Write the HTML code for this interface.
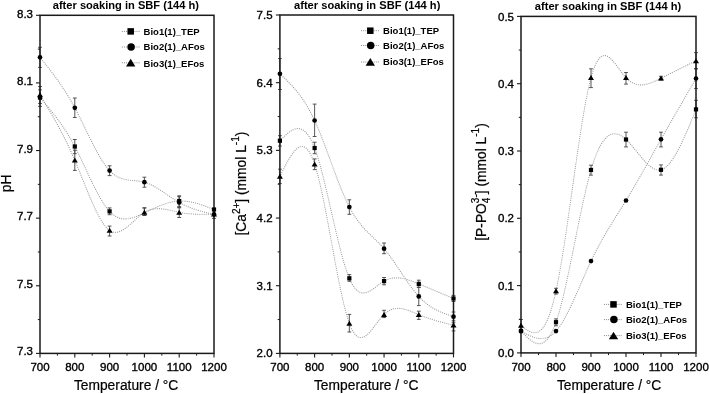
<!DOCTYPE html>
<html><head><meta charset="utf-8"><title>after soaking in SBF</title>
<style>
html,body{margin:0;padding:0;background:#fff;}
svg{display:block;}
text{font-family:"Liberation Sans", sans-serif;fill:#000;}
.tk{font-size:11.5px;stroke:#000;stroke-width:0.35px;}
.ttl{font-size:11.12px;font-weight:bold;}
.axt{font-size:13.8px;stroke:#000;stroke-width:0.2px;}
.sup{font-size:10px;}
.lg{font-size:9.5px;font-weight:bold;}
</style></head><body>
<svg width="709" height="394" viewBox="0 0 709 394">
<rect width="709" height="394" fill="#fff"/>
<polyline points="40.00,97.60 41.46,99.30 42.92,101.00 44.39,102.71 45.85,104.43 47.31,106.17 48.77,107.92 50.24,109.70 51.70,111.50 53.16,113.34 54.62,115.21 56.08,117.11 57.55,119.06 59.01,121.05 60.47,123.10 61.93,125.19 63.39,127.34 64.86,129.56 66.32,131.83 67.78,134.18 69.24,136.59 70.71,139.09 72.17,141.66 73.63,144.31 75.09,147.06 76.55,149.88 78.02,152.79 79.48,155.76 80.94,158.78 82.40,161.84 83.87,164.93 85.33,168.03 86.79,171.14 88.25,174.25 89.71,177.34 91.18,180.39 92.64,183.41 94.10,186.37 95.56,189.26 97.03,192.08 98.49,194.81 99.95,197.44 101.41,199.95 102.87,202.34 104.34,204.59 105.80,206.70 107.26,208.65 108.72,210.42 110.18,212.01 111.65,213.42 113.11,214.65 114.57,215.70 116.03,216.59 117.50,217.33 118.96,217.91 120.42,218.36 121.88,218.68 123.34,218.88 124.81,218.95 126.27,218.92 127.73,218.80 129.19,218.57 130.66,218.27 132.12,217.89 133.58,217.44 135.04,216.94 136.50,216.38 137.97,215.77 139.43,215.13 140.89,214.47 142.35,213.78 143.82,213.08 145.28,212.38 146.74,211.68 148.20,210.98 149.66,210.28 151.13,209.59 152.59,208.92 154.05,208.25 155.51,207.60 156.97,206.97 158.44,206.35 159.90,205.76 161.36,205.19 162.82,204.64 164.29,204.12 165.75,203.64 167.21,203.18 168.67,202.77 170.13,202.39 171.60,202.04 173.06,201.75 174.52,201.49 175.98,201.28 177.45,201.12 178.91,201.02 180.37,200.96 181.83,200.96 183.29,201.00 184.76,201.10 186.22,201.24 187.68,201.42 189.14,201.65 190.61,201.91 192.07,202.21 193.53,202.54 194.99,202.90 196.45,203.30 197.92,203.72 199.38,204.17 200.84,204.63 202.30,205.12 203.76,205.63 205.23,206.15 206.69,206.69 208.15,207.24 209.61,207.80 211.08,208.36 212.54,208.93 214.00,209.50" fill="none" stroke="#9a9a9a" stroke-width="1.15" stroke-linecap="round" stroke-dasharray="0.05 2.1"/>
<polyline points="40.00,57.30 41.46,59.12 42.92,60.94 44.39,62.78 45.85,64.62 47.31,66.47 48.77,68.34 50.24,70.22 51.70,72.13 53.16,74.07 54.62,76.04 56.08,78.03 57.55,80.06 59.01,82.13 60.47,84.24 61.93,86.40 63.39,88.61 64.86,90.86 66.32,93.17 67.78,95.54 69.24,97.96 70.71,100.46 72.17,103.02 73.63,105.64 75.09,108.35 76.55,111.12 78.02,113.96 79.48,116.85 80.94,119.79 82.40,122.75 83.87,125.74 85.33,128.74 86.79,131.74 88.25,134.73 89.71,137.69 91.18,140.63 92.64,143.53 94.10,146.37 95.56,149.15 97.03,151.86 98.49,154.48 99.95,157.01 101.41,159.44 102.87,161.75 104.34,163.93 105.80,165.98 107.26,167.89 108.72,169.63 110.18,171.21 111.65,172.62 113.11,173.87 114.57,174.97 116.03,175.94 117.50,176.77 118.96,177.49 120.42,178.11 121.88,178.62 123.34,179.05 124.81,179.41 126.27,179.70 127.73,179.94 129.19,180.14 130.66,180.30 132.12,180.44 133.58,180.57 135.04,180.70 136.50,180.84 137.97,181.00 139.43,181.19 140.89,181.42 142.35,181.70 143.82,182.04 145.28,182.46 146.74,182.95 148.20,183.51 149.66,184.13 151.13,184.81 152.59,185.55 154.05,186.33 155.51,187.16 156.97,188.03 158.44,188.93 159.90,189.86 161.36,190.81 162.82,191.79 164.29,192.78 165.75,193.77 167.21,194.77 168.67,195.77 170.13,196.77 171.60,197.75 173.06,198.72 174.52,199.67 175.98,200.59 177.45,201.48 178.91,202.33 180.37,203.15 181.83,203.92 183.29,204.66 184.76,205.36 186.22,206.02 187.68,206.65 189.14,207.25 190.61,207.82 192.07,208.36 193.53,208.87 194.99,209.36 196.45,209.83 197.92,210.28 199.38,210.71 200.84,211.11 202.30,211.51 203.76,211.89 205.23,212.26 206.69,212.61 208.15,212.96 209.61,213.30 211.08,213.64 212.54,213.97 214.00,214.30" fill="none" stroke="#9a9a9a" stroke-width="1.15" stroke-linecap="round" stroke-dasharray="0.05 2.1"/>
<polyline points="40.00,94.90 41.46,97.31 42.92,99.72 44.39,102.14 45.85,104.57 47.31,107.02 48.77,109.48 50.24,111.96 51.70,114.47 53.16,117.01 54.62,119.58 56.08,122.18 57.55,124.83 59.01,127.51 60.47,130.24 61.93,133.03 63.39,135.86 64.86,138.75 66.32,141.70 67.78,144.72 69.24,147.80 70.71,150.96 72.17,154.19 73.63,157.50 75.09,160.88 76.55,164.35 78.02,167.89 79.48,171.47 80.94,175.09 82.40,178.73 83.87,182.37 85.33,186.00 86.79,189.60 88.25,193.16 89.71,196.66 91.18,200.09 92.64,203.43 94.10,206.66 95.56,209.77 97.03,212.74 98.49,215.56 99.95,218.21 101.41,220.68 102.87,222.96 104.34,225.01 105.80,226.84 107.26,228.42 108.72,229.74 110.18,230.78 111.65,231.55 113.11,232.05 114.57,232.31 116.03,232.34 117.50,232.17 118.96,231.80 120.42,231.25 121.88,230.55 123.34,229.70 124.81,228.73 126.27,227.66 127.73,226.49 129.19,225.26 130.66,223.97 132.12,222.64 133.58,221.30 135.04,219.95 136.50,218.61 137.97,217.31 139.43,216.06 140.89,214.87 142.35,213.77 143.82,212.77 145.28,211.88 146.74,211.12 148.20,210.48 149.66,209.94 151.13,209.50 152.59,209.16 154.05,208.91 155.51,208.75 156.97,208.66 158.44,208.64 159.90,208.69 161.36,208.79 162.82,208.95 164.29,209.15 165.75,209.39 167.21,209.66 168.67,209.96 170.13,210.28 171.60,210.61 173.06,210.95 174.52,211.28 175.98,211.62 177.45,211.94 178.91,212.24 180.37,212.52 181.83,212.77 183.29,213.00 184.76,213.21 186.22,213.40 187.68,213.56 189.14,213.70 190.61,213.83 192.07,213.94 193.53,214.03 194.99,214.11 196.45,214.17 197.92,214.22 199.38,214.25 200.84,214.28 202.30,214.29 203.76,214.30 205.23,214.30 206.69,214.29 208.15,214.28 209.61,214.27 211.08,214.25 212.54,214.22 214.00,214.20" fill="none" stroke="#9a9a9a" stroke-width="1.15" stroke-linecap="round" stroke-dasharray="0.05 2.1"/>
<path d="M40.00,89.80V106.40M38.10,89.80H41.90M38.10,106.40H41.90" stroke="#444" stroke-width="0.9" fill="none"/>
<path d="M74.80,139.50V153.70M72.90,139.50H76.70M72.90,153.70H76.70" stroke="#444" stroke-width="0.9" fill="none"/>
<path d="M109.60,207.90V214.70M107.70,207.90H111.50M107.70,214.70H111.50" stroke="#444" stroke-width="0.9" fill="none"/>
<path d="M144.40,208.00V215.50M142.50,208.00H146.30M142.50,215.50H146.30" stroke="#444" stroke-width="0.9" fill="none"/>
<path d="M179.20,195.80V206.90M177.30,195.80H181.10M177.30,206.90H181.10" stroke="#444" stroke-width="0.9" fill="none"/>
<path d="M40.00,47.30V67.40M38.10,47.30H41.90M38.10,67.40H41.90" stroke="#444" stroke-width="0.9" fill="none"/>
<path d="M74.80,98.00V117.50M72.90,98.00H76.70M72.90,117.50H76.70" stroke="#444" stroke-width="0.9" fill="none"/>
<path d="M109.60,165.80V175.60M107.70,165.80H111.50M107.70,175.60H111.50" stroke="#444" stroke-width="0.9" fill="none"/>
<path d="M144.40,177.20V187.20M142.50,177.20H146.30M142.50,187.20H146.30" stroke="#444" stroke-width="0.9" fill="none"/>
<path d="M179.20,196.70V207.80M177.30,196.70H181.10M177.30,207.80H181.10" stroke="#444" stroke-width="0.9" fill="none"/>
<path d="M214.00,210.20V218.40M212.10,210.20H215.90M212.10,218.40H215.90" stroke="#444" stroke-width="0.9" fill="none"/>
<path d="M40.00,86.50V103.50M38.10,86.50H41.90M38.10,103.50H41.90" stroke="#444" stroke-width="0.9" fill="none"/>
<path d="M74.80,150.20V170.40M72.90,150.20H76.70M72.90,170.40H76.70" stroke="#444" stroke-width="0.9" fill="none"/>
<path d="M109.60,226.10V236.00M107.70,226.10H111.50M107.70,236.00H111.50" stroke="#444" stroke-width="0.9" fill="none"/>
<path d="M144.40,207.80V215.50M142.50,207.80H146.30M142.50,215.50H146.30" stroke="#444" stroke-width="0.9" fill="none"/>
<path d="M179.20,207.00V217.50M177.30,207.00H181.10M177.30,217.50H181.10" stroke="#444" stroke-width="0.9" fill="none"/>
<rect x="40.0" y="15.3" width="174.0" height="338.09999999999997" fill="none" stroke="#1a1a1a" stroke-width="1.5"/>
<line x1="40.00" y1="353.4" x2="40.00" y2="357.40" stroke="#1a1a1a" stroke-width="1.1"/>
<line x1="57.40" y1="353.4" x2="57.40" y2="355.60" stroke="#1a1a1a" stroke-width="1"/>
<text transform="translate(40.00,370.5)" text-anchor="middle" class="tk">700</text>
<line x1="74.80" y1="353.4" x2="74.80" y2="357.40" stroke="#1a1a1a" stroke-width="1.1"/>
<line x1="92.20" y1="353.4" x2="92.20" y2="355.60" stroke="#1a1a1a" stroke-width="1"/>
<text transform="translate(74.80,370.5)" text-anchor="middle" class="tk">800</text>
<line x1="109.60" y1="353.4" x2="109.60" y2="357.40" stroke="#1a1a1a" stroke-width="1.1"/>
<line x1="127.00" y1="353.4" x2="127.00" y2="355.60" stroke="#1a1a1a" stroke-width="1"/>
<text transform="translate(109.60,370.5)" text-anchor="middle" class="tk">900</text>
<line x1="144.40" y1="353.4" x2="144.40" y2="357.40" stroke="#1a1a1a" stroke-width="1.1"/>
<line x1="161.80" y1="353.4" x2="161.80" y2="355.60" stroke="#1a1a1a" stroke-width="1"/>
<text transform="translate(144.40,370.5)" text-anchor="middle" class="tk">1000</text>
<line x1="179.20" y1="353.4" x2="179.20" y2="357.40" stroke="#1a1a1a" stroke-width="1.1"/>
<line x1="196.60" y1="353.4" x2="196.60" y2="355.60" stroke="#1a1a1a" stroke-width="1"/>
<text transform="translate(179.20,370.5)" text-anchor="middle" class="tk">1100</text>
<line x1="214.00" y1="353.4" x2="214.00" y2="357.40" stroke="#1a1a1a" stroke-width="1.1"/>
<text transform="translate(214.00,370.5)" text-anchor="middle" class="tk">1200</text>
<line x1="36.00" y1="353.40" x2="40.0" y2="353.40" stroke="#1a1a1a" stroke-width="1.1"/>
<line x1="37.80" y1="319.59" x2="40.0" y2="319.59" stroke="#1a1a1a" stroke-width="1"/>
<text transform="translate(33.00,355.40)" text-anchor="end" class="tk">7.3</text>
<line x1="36.00" y1="285.78" x2="40.0" y2="285.78" stroke="#1a1a1a" stroke-width="1.1"/>
<line x1="37.80" y1="251.97" x2="40.0" y2="251.97" stroke="#1a1a1a" stroke-width="1"/>
<text transform="translate(33.00,287.78)" text-anchor="end" class="tk">7.5</text>
<line x1="36.00" y1="218.16" x2="40.0" y2="218.16" stroke="#1a1a1a" stroke-width="1.1"/>
<line x1="37.80" y1="184.35" x2="40.0" y2="184.35" stroke="#1a1a1a" stroke-width="1"/>
<text transform="translate(33.00,220.16)" text-anchor="end" class="tk">7.7</text>
<line x1="36.00" y1="150.54" x2="40.0" y2="150.54" stroke="#1a1a1a" stroke-width="1.1"/>
<line x1="37.80" y1="116.73" x2="40.0" y2="116.73" stroke="#1a1a1a" stroke-width="1"/>
<text transform="translate(33.00,152.54)" text-anchor="end" class="tk">7.9</text>
<line x1="36.00" y1="82.92" x2="40.0" y2="82.92" stroke="#1a1a1a" stroke-width="1.1"/>
<line x1="37.80" y1="49.11" x2="40.0" y2="49.11" stroke="#1a1a1a" stroke-width="1"/>
<text transform="translate(33.00,84.92)" text-anchor="end" class="tk">8.1</text>
<line x1="36.00" y1="15.30" x2="40.0" y2="15.30" stroke="#1a1a1a" stroke-width="1.1"/>
<text transform="translate(33.00,18.10)" text-anchor="end" class="tk">8.3</text>
<rect x="37.90" y="95.50" width="4.20" height="4.20" fill="#000"/>
<rect x="72.70" y="144.40" width="4.20" height="4.20" fill="#000"/>
<rect x="107.50" y="209.30" width="4.20" height="4.20" fill="#000"/>
<rect x="177.10" y="198.90" width="4.20" height="4.20" fill="#000"/>
<rect x="211.90" y="207.40" width="4.20" height="4.20" fill="#000"/>
<circle cx="40.00" cy="57.30" r="2.35" fill="#000"/>
<circle cx="74.80" cy="107.80" r="2.35" fill="#000"/>
<circle cx="109.60" cy="170.60" r="2.35" fill="#000"/>
<circle cx="144.40" cy="182.20" r="2.35" fill="#000"/>
<circle cx="179.20" cy="202.50" r="2.35" fill="#000"/>
<circle cx="214.00" cy="214.30" r="2.35" fill="#000"/>
<polygon points="40.00,92.30 43.00,97.30 37.00,97.30" fill="#000"/>
<polygon points="74.80,157.60 77.80,162.60 71.80,162.60" fill="#000"/>
<polygon points="109.60,227.80 112.60,232.80 106.60,232.80" fill="#000"/>
<polygon points="144.40,209.80 147.40,214.80 141.40,214.80" fill="#000"/>
<polygon points="179.20,209.70 182.20,214.70 176.20,214.70" fill="#000"/>
<polygon points="214.00,211.60 217.00,216.60 211.00,216.60" fill="#000"/>
<text x="125.90" y="8.80" text-anchor="middle" class="ttl">after soaking in SBF (144 h)</text>
<text x="126.10" y="389.8" text-anchor="middle" class="axt">Temperature / °C</text>
<polyline points="279.90,140.70 281.36,139.24 282.82,137.80 284.28,136.40 285.74,135.06 287.19,133.79 288.65,132.61 290.11,131.55 291.57,130.62 293.03,129.83 294.49,129.22 295.95,128.79 297.41,128.57 298.86,128.57 300.32,128.82 301.78,129.33 303.24,130.11 304.70,131.20 306.16,132.61 307.62,134.35 309.08,136.45 310.54,138.92 311.99,141.79 313.45,145.07 314.91,148.78 316.37,152.92 317.83,157.46 319.29,162.36 320.75,167.58 322.21,173.08 323.66,178.83 325.12,184.78 326.58,190.90 328.04,197.14 329.50,203.47 330.96,209.86 332.42,216.25 333.88,222.61 335.34,228.91 336.79,235.10 338.25,241.15 339.71,247.01 341.17,252.65 342.63,258.03 344.09,263.10 345.55,267.84 347.01,272.20 348.46,276.15 349.92,279.64 351.38,282.66 352.84,285.24 354.30,287.40 355.76,289.17 357.22,290.57 358.68,291.63 360.14,292.36 361.59,292.81 363.05,292.99 364.51,292.92 365.97,292.64 367.43,292.17 368.89,291.52 370.35,290.74 371.81,289.84 373.26,288.85 374.72,287.79 376.18,286.69 377.64,285.57 379.10,284.46 380.56,283.39 382.02,282.37 383.48,281.44 384.94,280.62 386.39,279.91 387.85,279.32 389.31,278.83 390.77,278.44 392.23,278.15 393.69,277.95 395.15,277.84 396.61,277.81 398.06,277.85 399.52,277.97 400.98,278.16 402.44,278.40 403.90,278.71 405.36,279.06 406.82,279.46 408.28,279.91 409.74,280.39 411.19,280.90 412.65,281.44 414.11,282.01 415.57,282.59 417.03,283.18 418.49,283.78 419.95,284.38 421.41,284.99 422.86,285.59 424.32,286.20 425.78,286.81 427.24,287.41 428.70,288.02 430.16,288.64 431.62,289.25 433.08,289.86 434.54,290.47 435.99,291.09 437.45,291.70 438.91,292.32 440.37,292.94 441.83,293.55 443.29,294.17 444.75,294.79 446.21,295.41 447.66,296.02 449.12,296.64 450.58,297.26 452.04,297.88 453.50,298.50" fill="none" stroke="#9a9a9a" stroke-width="1.15" stroke-linecap="round" stroke-dasharray="0.05 2.1"/>
<polyline points="279.90,73.80 281.36,75.17 282.82,76.55 284.28,77.93 285.74,79.34 287.19,80.77 288.65,82.24 290.11,83.74 291.57,85.29 293.03,86.88 294.49,88.53 295.95,90.25 297.41,92.03 298.86,93.89 300.32,95.84 301.78,97.87 303.24,99.99 304.70,102.22 306.16,104.55 307.62,106.99 309.08,109.56 310.54,112.25 311.99,115.07 313.45,118.03 314.91,121.13 316.37,124.38 317.83,127.77 319.29,131.27 320.75,134.88 322.21,138.58 323.66,142.36 325.12,146.20 326.58,150.09 328.04,154.02 329.50,157.98 330.96,161.94 332.42,165.90 333.88,169.85 335.34,173.76 336.79,177.62 338.25,181.43 339.71,185.16 341.17,188.81 342.63,192.36 344.09,195.79 345.55,199.10 347.01,202.26 348.46,205.27 349.92,208.12 351.38,210.79 352.84,213.29 354.30,215.65 355.76,217.87 357.22,219.96 358.68,221.93 360.14,223.80 361.59,225.56 363.05,227.25 364.51,228.86 365.97,230.40 367.43,231.90 368.89,233.35 370.35,234.78 371.81,236.18 373.26,237.57 374.72,238.97 376.18,240.38 377.64,241.82 379.10,243.29 380.56,244.81 382.02,246.38 383.48,248.02 384.94,249.74 386.39,251.54 387.85,253.41 389.31,255.35 390.77,257.34 392.23,259.38 393.69,261.46 395.15,263.58 396.61,265.73 398.06,267.89 399.52,270.07 400.98,272.25 402.44,274.43 403.90,276.59 405.36,278.74 406.82,280.87 408.28,282.96 409.74,285.02 411.19,287.02 412.65,288.97 414.11,290.86 415.57,292.68 417.03,294.42 418.49,296.08 419.95,297.65 421.41,299.12 422.86,300.51 424.32,301.82 425.78,303.05 427.24,304.20 428.70,305.29 430.16,306.30 431.62,307.26 433.08,308.15 434.54,308.99 435.99,309.78 437.45,310.52 438.91,311.22 440.37,311.88 441.83,312.51 443.29,313.10 444.75,313.66 446.21,314.21 447.66,314.73 449.12,315.24 450.58,315.73 452.04,316.22 453.50,316.70" fill="none" stroke="#9a9a9a" stroke-width="1.15" stroke-linecap="round" stroke-dasharray="0.05 2.1"/>
<polyline points="279.90,176.40 281.36,173.44 282.82,170.50 284.28,167.62 285.74,164.81 287.19,162.11 288.65,159.54 290.11,157.12 291.57,154.88 293.03,152.85 294.49,151.06 295.95,149.52 297.41,148.27 298.86,147.32 300.32,146.72 301.78,146.48 303.24,146.62 304.70,147.18 306.16,148.18 307.62,149.65 309.08,151.61 310.54,154.09 311.99,157.11 313.45,160.70 314.91,164.89 316.37,169.67 317.83,175.01 319.29,180.85 320.75,187.13 322.21,193.81 323.66,200.83 325.12,208.13 326.58,215.67 328.04,223.39 329.50,231.24 330.96,239.17 332.42,247.11 333.88,255.03 335.34,262.86 336.79,270.55 338.25,278.05 339.71,285.31 341.17,292.28 342.63,298.89 344.09,305.10 345.55,310.85 347.01,316.10 348.46,320.78 349.92,324.85 351.38,328.29 352.84,331.13 354.30,333.41 355.76,335.16 357.22,336.42 358.68,337.23 360.14,337.61 361.59,337.61 363.05,337.25 364.51,336.58 365.97,335.62 367.43,334.42 368.89,333.02 370.35,331.43 371.81,329.71 373.26,327.88 374.72,325.98 376.18,324.04 377.64,322.11 379.10,320.21 380.56,318.38 382.02,316.66 383.48,315.08 384.94,313.68 386.39,312.46 387.85,311.42 389.31,310.54 390.77,309.83 392.23,309.26 393.69,308.83 395.15,308.54 396.61,308.37 398.06,308.31 399.52,308.36 400.98,308.51 402.44,308.74 403.90,309.06 405.36,309.44 406.82,309.89 408.28,310.38 409.74,310.92 411.19,311.50 412.65,312.10 414.11,312.71 415.57,313.34 417.03,313.96 418.49,314.58 419.95,315.18 421.41,315.75 422.86,316.31 424.32,316.85 425.78,317.37 427.24,317.88 428.70,318.37 430.16,318.85 431.62,319.31 433.08,319.76 434.54,320.20 435.99,320.63 437.45,321.05 438.91,321.45 440.37,321.85 441.83,322.24 443.29,322.63 444.75,323.01 446.21,323.38 447.66,323.75 449.12,324.12 450.58,324.48 452.04,324.84 453.50,325.20" fill="none" stroke="#9a9a9a" stroke-width="1.15" stroke-linecap="round" stroke-dasharray="0.05 2.1"/>
<path d="M279.90,135.70V146.10M278.00,135.70H281.80M278.00,146.10H281.80" stroke="#444" stroke-width="0.9" fill="none"/>
<path d="M314.62,142.20V153.70M312.72,142.20H316.52M312.72,153.70H316.52" stroke="#444" stroke-width="0.9" fill="none"/>
<path d="M349.34,274.60V281.30M347.44,274.60H351.24M347.44,281.30H351.24" stroke="#444" stroke-width="0.9" fill="none"/>
<path d="M384.06,277.50V284.80M382.16,277.50H385.96M382.16,284.80H385.96" stroke="#444" stroke-width="0.9" fill="none"/>
<path d="M418.78,280.20V287.30M416.88,280.20H420.68M416.88,287.30H420.68" stroke="#444" stroke-width="0.9" fill="none"/>
<path d="M453.50,295.40V301.50M451.60,295.40H455.40M451.60,301.50H455.40" stroke="#444" stroke-width="0.9" fill="none"/>
<path d="M279.90,58.60V89.50M278.00,58.60H281.80M278.00,89.50H281.80" stroke="#444" stroke-width="0.9" fill="none"/>
<path d="M314.62,104.10V136.50M312.72,104.10H316.52M312.72,136.50H316.52" stroke="#444" stroke-width="0.9" fill="none"/>
<path d="M349.34,199.80V214.30M347.44,199.80H351.24M347.44,214.30H351.24" stroke="#444" stroke-width="0.9" fill="none"/>
<path d="M384.06,243.00V253.70M382.16,243.00H385.96M382.16,253.70H385.96" stroke="#444" stroke-width="0.9" fill="none"/>
<path d="M418.78,287.30V305.60M416.88,287.30H420.68M416.88,305.60H420.68" stroke="#444" stroke-width="0.9" fill="none"/>
<path d="M453.50,312.00V320.80M451.60,312.00H455.40M451.60,320.80H455.40" stroke="#444" stroke-width="0.9" fill="none"/>
<path d="M279.90,169.20V183.60M278.00,169.20H281.80M278.00,183.60H281.80" stroke="#444" stroke-width="0.9" fill="none"/>
<path d="M314.62,158.90V169.60M312.72,158.90H316.52M312.72,169.60H316.52" stroke="#444" stroke-width="0.9" fill="none"/>
<path d="M349.34,314.40V332.00M347.44,314.40H351.24M347.44,332.00H351.24" stroke="#444" stroke-width="0.9" fill="none"/>
<path d="M384.06,310.30V317.60M382.16,310.30H385.96M382.16,317.60H385.96" stroke="#444" stroke-width="0.9" fill="none"/>
<path d="M418.78,311.20V319.40M416.88,311.20H420.68M416.88,319.40H420.68" stroke="#444" stroke-width="0.9" fill="none"/>
<path d="M453.50,322.80V330.90M451.60,322.80H455.40M451.60,330.90H455.40" stroke="#444" stroke-width="0.9" fill="none"/>
<rect x="279.9" y="15.0" width="173.60000000000002" height="338.4" fill="none" stroke="#1a1a1a" stroke-width="1.5"/>
<line x1="279.90" y1="353.4" x2="279.90" y2="357.40" stroke="#1a1a1a" stroke-width="1.1"/>
<line x1="297.26" y1="353.4" x2="297.26" y2="355.60" stroke="#1a1a1a" stroke-width="1"/>
<text transform="translate(279.90,370.5)" text-anchor="middle" class="tk">700</text>
<line x1="314.62" y1="353.4" x2="314.62" y2="357.40" stroke="#1a1a1a" stroke-width="1.1"/>
<line x1="331.98" y1="353.4" x2="331.98" y2="355.60" stroke="#1a1a1a" stroke-width="1"/>
<text transform="translate(314.62,370.5)" text-anchor="middle" class="tk">800</text>
<line x1="349.34" y1="353.4" x2="349.34" y2="357.40" stroke="#1a1a1a" stroke-width="1.1"/>
<line x1="366.70" y1="353.4" x2="366.70" y2="355.60" stroke="#1a1a1a" stroke-width="1"/>
<text transform="translate(349.34,370.5)" text-anchor="middle" class="tk">900</text>
<line x1="384.06" y1="353.4" x2="384.06" y2="357.40" stroke="#1a1a1a" stroke-width="1.1"/>
<line x1="401.42" y1="353.4" x2="401.42" y2="355.60" stroke="#1a1a1a" stroke-width="1"/>
<text transform="translate(384.06,370.5)" text-anchor="middle" class="tk">1000</text>
<line x1="418.78" y1="353.4" x2="418.78" y2="357.40" stroke="#1a1a1a" stroke-width="1.1"/>
<line x1="436.14" y1="353.4" x2="436.14" y2="355.60" stroke="#1a1a1a" stroke-width="1"/>
<text transform="translate(418.78,370.5)" text-anchor="middle" class="tk">1100</text>
<line x1="453.50" y1="353.4" x2="453.50" y2="357.40" stroke="#1a1a1a" stroke-width="1.1"/>
<text transform="translate(453.50,370.5)" text-anchor="middle" class="tk">1200</text>
<line x1="275.90" y1="353.40" x2="279.9" y2="353.40" stroke="#1a1a1a" stroke-width="1.1"/>
<line x1="277.70" y1="319.56" x2="279.9" y2="319.56" stroke="#1a1a1a" stroke-width="1"/>
<text transform="translate(272.60,357.30)" text-anchor="end" class="tk">2.0</text>
<line x1="275.90" y1="285.72" x2="279.9" y2="285.72" stroke="#1a1a1a" stroke-width="1.1"/>
<line x1="277.70" y1="251.88" x2="279.9" y2="251.88" stroke="#1a1a1a" stroke-width="1"/>
<text transform="translate(272.60,289.62)" text-anchor="end" class="tk">3.1</text>
<line x1="275.90" y1="218.04" x2="279.9" y2="218.04" stroke="#1a1a1a" stroke-width="1.1"/>
<line x1="277.70" y1="184.20" x2="279.9" y2="184.20" stroke="#1a1a1a" stroke-width="1"/>
<text transform="translate(272.60,221.94)" text-anchor="end" class="tk">4.2</text>
<line x1="275.90" y1="150.36" x2="279.9" y2="150.36" stroke="#1a1a1a" stroke-width="1.1"/>
<line x1="277.70" y1="116.52" x2="279.9" y2="116.52" stroke="#1a1a1a" stroke-width="1"/>
<text transform="translate(272.60,154.26)" text-anchor="end" class="tk">5.3</text>
<line x1="275.90" y1="82.68" x2="279.9" y2="82.68" stroke="#1a1a1a" stroke-width="1.1"/>
<line x1="277.70" y1="48.84" x2="279.9" y2="48.84" stroke="#1a1a1a" stroke-width="1"/>
<text transform="translate(272.60,86.58)" text-anchor="end" class="tk">6.4</text>
<line x1="275.90" y1="15.00" x2="279.9" y2="15.00" stroke="#1a1a1a" stroke-width="1.1"/>
<text transform="translate(272.60,18.90)" text-anchor="end" class="tk">7.5</text>
<rect x="277.80" y="138.60" width="4.20" height="4.20" fill="#000"/>
<rect x="312.52" y="145.90" width="4.20" height="4.20" fill="#000"/>
<rect x="347.24" y="276.20" width="4.20" height="4.20" fill="#000"/>
<rect x="381.96" y="279.00" width="4.20" height="4.20" fill="#000"/>
<rect x="416.68" y="281.80" width="4.20" height="4.20" fill="#000"/>
<rect x="451.40" y="296.40" width="4.20" height="4.20" fill="#000"/>
<circle cx="279.90" cy="73.80" r="2.35" fill="#000"/>
<circle cx="314.62" cy="120.50" r="2.35" fill="#000"/>
<circle cx="349.34" cy="207.00" r="2.35" fill="#000"/>
<circle cx="384.06" cy="248.70" r="2.35" fill="#000"/>
<circle cx="418.78" cy="296.40" r="2.35" fill="#000"/>
<circle cx="453.50" cy="316.70" r="2.35" fill="#000"/>
<polygon points="279.90,173.80 282.90,178.80 276.90,178.80" fill="#000"/>
<polygon points="314.62,161.40 317.62,166.40 311.62,166.40" fill="#000"/>
<polygon points="349.34,320.70 352.34,325.70 346.34,325.70" fill="#000"/>
<polygon points="384.06,311.90 387.06,316.90 381.06,316.90" fill="#000"/>
<polygon points="418.78,312.10 421.78,317.10 415.78,317.10" fill="#000"/>
<polygon points="453.50,322.60 456.50,327.60 450.50,327.60" fill="#000"/>
<text x="367.20" y="8.70" text-anchor="middle" class="ttl">after soaking in SBF (144 h)</text>
<text x="366.20" y="390.3" text-anchor="middle" class="axt">Temperature / °C</text>
<polyline points="521.00,331.00 522.47,332.54 523.94,334.06 525.41,335.54 526.88,336.96 528.35,338.30 529.82,339.54 531.29,340.65 532.76,341.63 534.24,342.44 535.71,343.07 537.18,343.49 538.65,343.69 540.12,343.65 541.59,343.35 543.06,342.76 544.53,341.87 546.00,340.65 547.47,339.09 548.94,337.17 550.41,334.85 551.88,332.14 553.35,328.99 554.82,325.41 556.29,321.35 557.76,316.83 559.24,311.86 560.71,306.50 562.18,300.77 563.65,294.72 565.12,288.39 566.59,281.80 568.06,275.00 569.53,268.03 571.00,260.92 572.47,253.71 573.94,246.43 575.41,239.14 576.88,231.85 578.35,224.62 579.82,217.48 581.29,210.46 582.76,203.61 584.24,196.95 585.71,190.54 587.18,184.40 588.65,178.57 590.12,173.10 591.59,168.01 593.06,163.33 594.53,159.05 596.00,155.14 597.47,151.61 598.94,148.44 600.41,145.61 601.88,143.12 603.35,140.95 604.82,139.09 606.29,137.53 607.76,136.25 609.24,135.26 610.71,134.52 612.18,134.03 613.65,133.79 615.12,133.77 616.59,133.96 618.06,134.36 619.53,134.95 621.00,135.72 622.47,136.65 623.94,137.74 625.41,138.97 626.88,140.33 628.35,141.81 629.82,143.39 631.29,145.05 632.76,146.78 634.24,148.55 635.71,150.36 637.18,152.18 638.65,154.01 640.12,155.81 641.59,157.58 643.06,159.30 644.53,160.95 646.00,162.52 647.47,163.99 648.94,165.34 650.41,166.55 651.88,167.61 653.35,168.51 654.82,169.22 656.29,169.72 657.76,170.01 659.24,170.07 660.71,169.87 662.18,169.41 663.65,168.68 665.12,167.71 666.59,166.49 668.06,165.05 669.53,163.38 671.00,161.52 672.47,159.46 673.94,157.21 675.41,154.80 676.88,152.22 678.35,149.50 679.82,146.64 681.29,143.65 682.76,140.55 684.24,137.35 685.71,134.06 687.18,130.68 688.65,127.24 690.12,123.74 691.59,120.20 693.06,116.62 694.53,113.01 696.00,109.40" fill="none" stroke="#9a9a9a" stroke-width="1.15" stroke-linecap="round" stroke-dasharray="0.05 2.1"/>
<polyline points="521.00,331.10 522.47,331.92 523.94,332.72 525.41,333.51 526.88,334.28 528.35,335.00 529.82,335.69 531.29,336.32 532.76,336.90 534.24,337.40 535.71,337.83 537.18,338.17 538.65,338.41 540.12,338.55 541.59,338.58 543.06,338.49 544.53,338.26 546.00,337.90 547.47,337.39 548.94,336.73 550.41,335.90 551.88,334.90 553.35,333.72 554.82,332.34 556.29,330.77 557.76,328.99 559.24,327.03 560.71,324.88 562.18,322.57 563.65,320.10 565.12,317.49 566.59,314.75 568.06,311.89 569.53,308.92 571.00,305.86 572.47,302.72 573.94,299.50 575.41,296.23 576.88,292.91 578.35,289.56 579.82,286.19 581.29,282.80 582.76,279.42 584.24,276.06 585.71,272.72 587.18,269.42 588.65,266.16 590.12,262.98 591.59,259.86 593.06,256.83 594.53,253.88 596.00,250.99 597.47,248.17 598.94,245.42 600.41,242.72 601.88,240.08 603.35,237.49 604.82,234.94 606.29,232.43 607.76,229.96 609.24,227.51 610.71,225.10 612.18,222.71 613.65,220.34 615.12,217.98 616.59,215.63 618.06,213.28 619.53,210.93 621.00,208.58 622.47,206.22 623.94,203.85 625.41,201.46 626.88,199.05 628.35,196.62 629.82,194.16 631.29,191.68 632.76,189.18 634.24,186.67 635.71,184.14 637.18,181.59 638.65,179.03 640.12,176.46 641.59,173.87 643.06,171.28 644.53,168.67 646.00,166.06 647.47,163.45 648.94,160.82 650.41,158.20 651.88,155.57 653.35,152.94 654.82,150.31 656.29,147.68 657.76,145.06 659.24,142.44 660.71,139.82 662.18,137.21 663.65,134.61 665.12,132.02 666.59,129.43 668.06,126.85 669.53,124.27 671.00,121.70 672.47,119.13 673.94,116.57 675.41,114.01 676.88,111.46 678.35,108.91 679.82,106.36 681.29,103.82 682.76,101.28 684.24,98.74 685.71,96.20 687.18,93.67 688.65,91.14 690.12,88.61 691.59,86.08 693.06,83.55 694.53,81.03 696.00,78.50" fill="none" stroke="#9a9a9a" stroke-width="1.15" stroke-linecap="round" stroke-dasharray="0.05 2.1"/>
<polyline points="521.00,325.40 522.47,326.60 523.94,327.76 525.41,328.88 526.88,329.91 528.35,330.82 529.82,331.60 531.29,332.20 532.76,332.61 534.24,332.80 535.71,332.73 537.18,332.38 538.65,331.73 540.12,330.73 541.59,329.38 543.06,327.62 544.53,325.45 546.00,322.83 547.47,319.73 548.94,316.12 550.41,311.99 551.88,307.29 553.35,302.00 554.82,296.09 556.29,289.54 557.76,282.34 559.24,274.54 560.71,266.21 562.18,257.40 563.65,248.19 565.12,238.62 566.59,228.76 568.06,218.67 569.53,208.41 571.00,198.04 572.47,187.63 573.94,177.22 575.41,166.90 576.88,156.70 578.35,146.71 579.82,136.97 581.29,127.54 582.76,118.50 584.24,109.90 585.71,101.79 587.18,94.25 588.65,87.33 590.12,81.09 591.59,75.59 593.06,70.86 594.53,66.85 596.00,63.51 597.47,60.82 598.94,58.73 600.41,57.20 601.88,56.19 603.35,55.66 604.82,55.56 606.29,55.85 607.76,56.50 609.24,57.47 610.71,58.70 612.18,60.17 613.65,61.83 615.12,63.64 616.59,65.56 618.06,67.55 619.53,69.56 621.00,71.56 622.47,73.50 623.94,75.35 625.41,77.06 626.88,78.60 628.35,79.95 629.82,81.11 631.29,82.11 632.76,82.94 634.24,83.61 635.71,84.13 637.18,84.52 638.65,84.77 640.12,84.90 641.59,84.92 643.06,84.83 644.53,84.63 646.00,84.35 647.47,83.99 648.94,83.55 650.41,83.04 651.88,82.48 653.35,81.87 654.82,81.22 656.29,80.53 657.76,79.82 659.24,79.09 660.71,78.35 662.18,77.61 663.65,76.87 665.12,76.13 666.59,75.40 668.06,74.66 669.53,73.93 671.00,73.19 672.47,72.46 673.94,71.73 675.41,71.00 676.88,70.26 678.35,69.53 679.82,68.80 681.29,68.08 682.76,67.35 684.24,66.62 685.71,65.89 687.18,65.16 688.65,64.43 690.12,63.71 691.59,62.98 693.06,62.25 694.53,61.53 696.00,60.80" fill="none" stroke="#9a9a9a" stroke-width="1.15" stroke-linecap="round" stroke-dasharray="0.05 2.1"/>
<path d="M556.00,318.90V325.80M554.10,318.90H557.90M554.10,325.80H557.90" stroke="#444" stroke-width="0.9" fill="none"/>
<path d="M591.00,165.20V175.10M589.10,165.20H592.90M589.10,175.10H592.90" stroke="#444" stroke-width="0.9" fill="none"/>
<path d="M626.00,132.20V146.90M624.10,132.20H627.90M624.10,146.90H627.90" stroke="#444" stroke-width="0.9" fill="none"/>
<path d="M661.00,164.90V175.10M659.10,164.90H662.90M659.10,175.10H662.90" stroke="#444" stroke-width="0.9" fill="none"/>
<path d="M696.00,100.30V117.80M694.10,100.30H697.90M694.10,117.80H697.90" stroke="#444" stroke-width="0.9" fill="none"/>
<path d="M661.00,132.20V146.90M659.10,132.20H662.90M659.10,146.90H662.90" stroke="#444" stroke-width="0.9" fill="none"/>
<path d="M696.00,68.60V88.60M694.10,68.60H697.90M694.10,88.60H697.90" stroke="#444" stroke-width="0.9" fill="none"/>
<path d="M521.00,319.50V331.00M519.10,319.50H522.90M519.10,331.00H522.90" stroke="#444" stroke-width="0.9" fill="none"/>
<path d="M556.00,288.30V294.10M554.10,288.30H557.90M554.10,294.10H557.90" stroke="#444" stroke-width="0.9" fill="none"/>
<path d="M591.00,68.80V87.60M589.10,68.80H592.90M589.10,87.60H592.90" stroke="#444" stroke-width="0.9" fill="none"/>
<path d="M626.00,72.50V84.10M624.10,72.50H627.90M624.10,84.10H627.90" stroke="#444" stroke-width="0.9" fill="none"/>
<path d="M661.00,76.30V80.10M659.10,76.30H662.90M659.10,80.10H662.90" stroke="#444" stroke-width="0.9" fill="none"/>
<path d="M696.00,52.60V68.90M694.10,52.60H697.90M694.10,68.90H697.90" stroke="#444" stroke-width="0.9" fill="none"/>
<rect x="521.0" y="16.4" width="175.0" height="336.5" fill="none" stroke="#1a1a1a" stroke-width="1.5"/>
<line x1="521.00" y1="352.9" x2="521.00" y2="356.90" stroke="#1a1a1a" stroke-width="1.1"/>
<line x1="538.50" y1="352.9" x2="538.50" y2="355.10" stroke="#1a1a1a" stroke-width="1"/>
<text transform="translate(521.00,370.5)" text-anchor="middle" class="tk">700</text>
<line x1="556.00" y1="352.9" x2="556.00" y2="356.90" stroke="#1a1a1a" stroke-width="1.1"/>
<line x1="573.50" y1="352.9" x2="573.50" y2="355.10" stroke="#1a1a1a" stroke-width="1"/>
<text transform="translate(556.00,370.5)" text-anchor="middle" class="tk">800</text>
<line x1="591.00" y1="352.9" x2="591.00" y2="356.90" stroke="#1a1a1a" stroke-width="1.1"/>
<line x1="608.50" y1="352.9" x2="608.50" y2="355.10" stroke="#1a1a1a" stroke-width="1"/>
<text transform="translate(591.00,370.5)" text-anchor="middle" class="tk">900</text>
<line x1="626.00" y1="352.9" x2="626.00" y2="356.90" stroke="#1a1a1a" stroke-width="1.1"/>
<line x1="643.50" y1="352.9" x2="643.50" y2="355.10" stroke="#1a1a1a" stroke-width="1"/>
<text transform="translate(626.00,370.5)" text-anchor="middle" class="tk">1000</text>
<line x1="661.00" y1="352.9" x2="661.00" y2="356.90" stroke="#1a1a1a" stroke-width="1.1"/>
<line x1="678.50" y1="352.9" x2="678.50" y2="355.10" stroke="#1a1a1a" stroke-width="1"/>
<text transform="translate(661.00,370.5)" text-anchor="middle" class="tk">1100</text>
<line x1="696.00" y1="352.9" x2="696.00" y2="356.90" stroke="#1a1a1a" stroke-width="1.1"/>
<text transform="translate(696.00,370.5)" text-anchor="middle" class="tk">1200</text>
<line x1="517.00" y1="352.90" x2="521.0" y2="352.90" stroke="#1a1a1a" stroke-width="1.1"/>
<line x1="518.80" y1="319.25" x2="521.0" y2="319.25" stroke="#1a1a1a" stroke-width="1"/>
<text transform="translate(514.00,356.90)" text-anchor="end" class="tk">0.0</text>
<line x1="517.00" y1="285.60" x2="521.0" y2="285.60" stroke="#1a1a1a" stroke-width="1.1"/>
<line x1="518.80" y1="251.95" x2="521.0" y2="251.95" stroke="#1a1a1a" stroke-width="1"/>
<text transform="translate(514.00,289.60)" text-anchor="end" class="tk">0.1</text>
<line x1="517.00" y1="218.30" x2="521.0" y2="218.30" stroke="#1a1a1a" stroke-width="1.1"/>
<line x1="518.80" y1="184.65" x2="521.0" y2="184.65" stroke="#1a1a1a" stroke-width="1"/>
<text transform="translate(514.00,222.30)" text-anchor="end" class="tk">0.2</text>
<line x1="517.00" y1="151.00" x2="521.0" y2="151.00" stroke="#1a1a1a" stroke-width="1.1"/>
<line x1="518.80" y1="117.35" x2="521.0" y2="117.35" stroke="#1a1a1a" stroke-width="1"/>
<text transform="translate(514.00,155.00)" text-anchor="end" class="tk">0.3</text>
<line x1="517.00" y1="83.70" x2="521.0" y2="83.70" stroke="#1a1a1a" stroke-width="1.1"/>
<line x1="518.80" y1="50.05" x2="521.0" y2="50.05" stroke="#1a1a1a" stroke-width="1"/>
<text transform="translate(514.00,87.70)" text-anchor="end" class="tk">0.4</text>
<line x1="517.00" y1="16.40" x2="521.0" y2="16.40" stroke="#1a1a1a" stroke-width="1.1"/>
<text transform="translate(514.00,21.20)" text-anchor="end" class="tk">0.5</text>
<rect x="518.90" y="328.90" width="4.20" height="4.20" fill="#000"/>
<rect x="553.90" y="320.10" width="4.20" height="4.20" fill="#000"/>
<rect x="588.90" y="167.90" width="4.20" height="4.20" fill="#000"/>
<rect x="623.90" y="137.40" width="4.20" height="4.20" fill="#000"/>
<rect x="658.90" y="167.70" width="4.20" height="4.20" fill="#000"/>
<rect x="693.90" y="107.30" width="4.20" height="4.20" fill="#000"/>
<circle cx="521.00" cy="331.10" r="2.35" fill="#000"/>
<circle cx="556.00" cy="331.10" r="2.35" fill="#000"/>
<circle cx="591.00" cy="261.10" r="2.35" fill="#000"/>
<circle cx="626.00" cy="200.50" r="2.35" fill="#000"/>
<circle cx="661.00" cy="139.30" r="2.35" fill="#000"/>
<circle cx="696.00" cy="78.50" r="2.35" fill="#000"/>
<polygon points="521.00,322.80 524.00,327.80 518.00,327.80" fill="#000"/>
<polygon points="556.00,288.30 559.00,293.30 553.00,293.30" fill="#000"/>
<polygon points="591.00,75.10 594.00,80.10 588.00,80.10" fill="#000"/>
<polygon points="626.00,75.10 629.00,80.10 623.00,80.10" fill="#000"/>
<polygon points="661.00,75.60 664.00,80.60 658.00,80.60" fill="#000"/>
<polygon points="696.00,58.20 699.00,63.20 693.00,63.20" fill="#000"/>
<text x="608.00" y="10.20" text-anchor="middle" class="ttl">after soaking in SBF (144 h)</text>
<text x="609.10" y="390.1" text-anchor="middle" class="axt">Temperature / °C</text>
<text transform="translate(10.8,183.4) rotate(-90)" text-anchor="middle" class="axt">pH</text>
<text transform="translate(246.1,183.6) rotate(-90)" text-anchor="middle" class="axt">[Ca<tspan class="sup" dy="-6.3">2+</tspan><tspan dy="6.3">] (mmol L</tspan><tspan class="sup" dy="-7.0">-1</tspan><tspan dy="7.0">)</tspan></text>
<text transform="translate(485.7,182) rotate(-90)" text-anchor="middle" class="axt">[P-PO<tspan class="sup" dy="4.3">4</tspan><tspan class="sup" dx="-5.56" dy="-11.5">3-</tspan><tspan dy="7.2">] (mmol L</tspan><tspan class="sup" dy="-7.2">-1</tspan><tspan dy="7.2">)</tspan></text>
<line x1="121.8" y1="31.40" x2="139.6" y2="31.40" stroke="#7a7a7a" stroke-width="0.9" stroke-dasharray="1 1.1"/>
<rect x="127.45" y="28.15" width="6.50" height="6.50" fill="#000"/>
<text x="143.6" y="35.00" class="lg">Bio1(1)_TEP</text>
<line x1="121.8" y1="47.00" x2="139.6" y2="47.00" stroke="#7a7a7a" stroke-width="0.9" stroke-dasharray="1 1.1"/>
<circle cx="131.10" cy="47.00" r="3.75" fill="#000"/>
<text x="143.6" y="50.40" class="lg">Bio2(1)_AFos</text>
<line x1="121.8" y1="62.80" x2="139.6" y2="62.80" stroke="#7a7a7a" stroke-width="0.9" stroke-dasharray="1 1.1"/>
<polygon points="130.70,58.85 135.35,66.45 126.05,66.45" fill="#000"/>
<text x="143.6" y="66.70" class="lg">Bio3(1)_EFos</text>
<line x1="361.1" y1="30.70" x2="378.9" y2="30.70" stroke="#7a7a7a" stroke-width="0.9" stroke-dasharray="1 1.1"/>
<rect x="367.05" y="27.45" width="6.50" height="6.50" fill="#000"/>
<text x="383.1" y="33.60" class="lg">Bio1(1)_TEP</text>
<line x1="361.1" y1="45.50" x2="378.9" y2="45.50" stroke="#7a7a7a" stroke-width="0.9" stroke-dasharray="1 1.1"/>
<circle cx="370.70" cy="45.50" r="3.75" fill="#000"/>
<text x="383.1" y="48.90" class="lg">Bio2(1)_AFos</text>
<line x1="361.1" y1="62.00" x2="378.9" y2="62.00" stroke="#7a7a7a" stroke-width="0.9" stroke-dasharray="1 1.1"/>
<polygon points="370.30,58.05 374.95,65.65 365.65,65.65" fill="#000"/>
<text x="383.1" y="65.20" class="lg">Bio3(1)_EFos</text>
<line x1="603.9" y1="304.40" x2="622.4" y2="304.40" stroke="#7a7a7a" stroke-width="0.9" stroke-dasharray="1 1.1"/>
<rect x="610.25" y="301.15" width="6.50" height="6.50" fill="#000"/>
<text x="625.9" y="307.80" class="lg">Bio1(1)_TEP</text>
<line x1="603.9" y1="319.60" x2="622.4" y2="319.60" stroke="#7a7a7a" stroke-width="0.9" stroke-dasharray="1 1.1"/>
<circle cx="613.90" cy="319.60" r="3.75" fill="#000"/>
<text x="625.9" y="322.90" class="lg">Bio2(1)_AFos</text>
<line x1="603.9" y1="335.60" x2="622.4" y2="335.60" stroke="#7a7a7a" stroke-width="0.9" stroke-dasharray="1 1.1"/>
<polygon points="613.50,331.65 618.15,339.25 608.85,339.25" fill="#000"/>
<text x="625.9" y="338.90" class="lg">Bio3(1)_EFos</text>
</svg>
</body></html>
